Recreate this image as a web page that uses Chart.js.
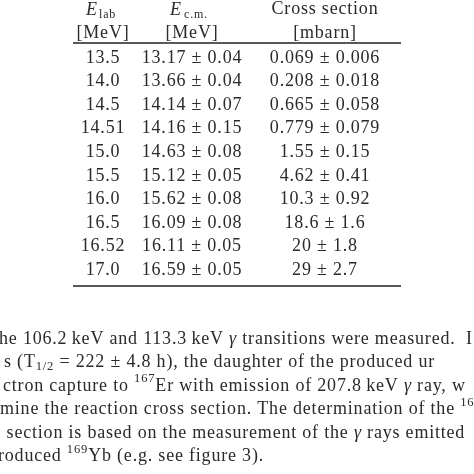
<!DOCTYPE html>
<html>
<head>
<meta charset="UTF-8">
<script src="https://cdn.jsdelivr.net/npm/chart.js"></script>
<style>
  body { margin: 0; background: #fff; }
  #tabela { display: block; }
</style>
</head>
<body>
<canvas id="tabela" width="474" height="474"></canvas>
<script>
// valores da tabela
var elab = ['13.5', '14.0', '14.5', '14.51', '15.0', '15.5', '16.0', '16.5', '16.52', '17.0'];
var ecm = ['13.17 ± 0.04', '13.66 ± 0.04', '14.14 ± 0.07', '14.16 ± 0.15', '14.63 ± 0.08',
           '15.12 ± 0.05', '15.62 ± 0.08', '16.09 ± 0.08', '16.11 ± 0.05', '16.59 ± 0.05'];
var secao = ['0.069 ± 0.006', '0.208 ± 0.018', '0.665 ± 0.058', '0.779 ± 0.079', '1.55 ± 0.15',
             '4.62 ± 0.41', '10.3 ± 0.92', '18.6 ± 1.6', '20 ± 1.8', '29 ± 2.7'];
var colunas = ['E_lab', 'E_cm', 'Cross section'];
var unidades = ['[MeV]', '[MeV]', '[mbarn]'];

// texto abaixo da tabela (cortado nas bordas como no original)
var paragrafo = [
  [['he 106.2\u2009keV and 113.3\u2009keV '], ['γ', 'i'], [' transitions were measured.  I']],
  [['s (T'], ['1/2', 'sub'], [' = 222 ± 4.8 h), the daughter of the produced ur']],
  [['ctron capture to '], ['167', 'sup'], ['Er with emission of 207.8\u2009keV '], ['γ', 'i'], [' ray, w']],
  [['mine the reaction cross section. The determination of the '], ['166', 'sup']],
  [['. section is based on the measurement of the '], ['γ', 'i'], [' rays emitted']],
  [['roduced '], ['169', 'sup'], ['Yb (e.g. see figure 3).']]
];

var serif = '"Liberation Serif", "DejaVu Serif", serif';
var colX = [103, 192, 325];

function rich(ctx, partes, x, y, tam) {
  ctx.textAlign = 'left';
  partes.forEach(function (p) {
    var estilo = p[1];
    var t = tam, dy = 0, it = '';
    if (estilo == 'sup') { t = tam * 0.7; dy = -tam * 0.38; }
    if (estilo == 'sub') { t = tam * 0.7; dy = tam * 0.22; }
    if (estilo == 'i') it = 'italic ';
    ctx.font = it + t + 'px ' + serif;
    ctx.fillText(p[0], x, y + dy);
    x += ctx.measureText(p[0]).width;
  });
}

var tabelaPlugin = {
  id: 'tabela',
  afterDraw: function (chart) {
    var ctx = chart.ctx;
    var ys = chart.scales.y;
    ctx.save();
    ctx.fillStyle = '#2a2a2a';
    ctx.textBaseline = 'middle';
    ctx.letterSpacing = '0.8px';

    // cabecalho
    ctx.textAlign = 'center';
    ctx.font = 'italic 18px ' + serif;
    ctx.fillText('E', colX[0] - 11, 10);
    ctx.fillText('E', colX[1] - 16, 10);
    ctx.font = '12px ' + serif;
    ctx.textAlign = 'left';
    ctx.fillText('lab', colX[0] - 4, 15);
    ctx.fillText('c.m.', colX[1] - 8, 15);
    ctx.textAlign = 'center';
    ctx.font = '18px ' + serif;
    ctx.fillText('Cross section', colX[2], 9);
    for (var c = 0; c < 3; c++) ctx.fillText(unidades[c], colX[c], 33);

    // linhas horizontais
    ctx.strokeStyle = '#222';
    ctx.lineWidth = 1.6;
    ctx.beginPath();
    ctx.moveTo(73, 43); ctx.lineTo(401, 43);
    ctx.moveTo(73, 286); ctx.lineTo(401, 286);
    ctx.stroke();

    // corpo da tabela
    ctx.font = '18px ' + serif;
    for (var i = 0; i < elab.length; i++) {
      var y = ys.getPixelForValue(i);
      ctx.fillText(elab[i], colX[0], y);
      ctx.fillText(ecm[i], colX[1], y);
      ctx.fillText(secao[i], colX[2], y);
    }

    // paragrafo
    var x0 = [-1, 4, 3, 0, -4, -2];
    paragrafo.forEach(function (linha, k) {
      rich(ctx, linha, x0[k], 339 + k * 23.5, 18);
    });
    ctx.restore();
  }
};

new Chart(document.getElementById('tabela'), {
  type: 'scatter',
  data: { datasets: [{ data: [] }] },
  options: {
    responsive: false,
    animation: false,
    layout: { padding: { top: 46, bottom: 192, left: 0, right: 0 } },
    plugins: { legend: { display: false }, tooltip: { enabled: false } },
    scales: {
      x: { type: 'linear', min: 0, max: 1, display: false },
      y: { type: 'category', labels: elab, offset: true, display: false }
    }
  },
  plugins: [tabelaPlugin]
});
</script>
</body>
</html>
